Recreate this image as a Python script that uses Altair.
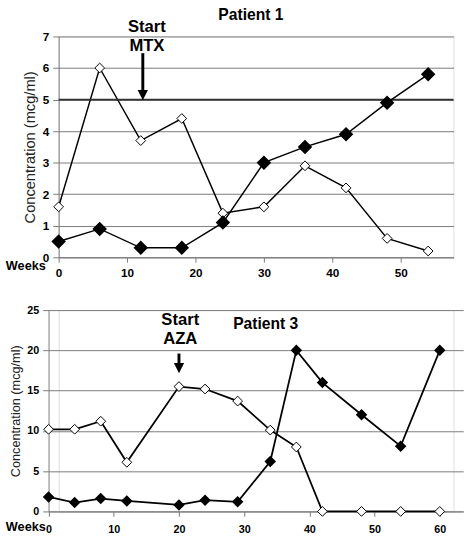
import altair as alt
import pandas as pd

# ---- Patient 1 data ----
p1_weeks = [0, 6, 12, 18, 24, 30, 36, 42, 48, 54]
p1_open = [1.6, 6.0, 3.7, 4.4, 1.4, 1.6, 2.9, 2.2, 0.6, 0.2]
p1_filled = [0.5, 0.9, 0.3, 0.3, 1.1, 3.0, 3.5, 3.9, 4.9, 5.8]
p1_x_ticks = [0, 10, 20, 30, 40, 50]
p1_y_ticks = [0, 1, 2, 3, 4, 5, 6, 7]

# ---- Patient 3 data ----
p3_weeks = [0, 4, 8, 12, 20, 24, 29, 34, 38, 42, 48, 54, 60]
p3_open = [10.2, 10.2, 11.2, 6.1, 15.5, 15.2, 13.7, 10.1, 8.0, 0, 0, 0, 0]
p3_filled = [1.8, 1.1, 1.6, 1.3, 0.8, 1.4, 1.2, 6.2, 20.0, 16.0, 12.0, 8.1, 20.0]
p3_x_ticks = [0, 10, 20, 30, 40, 50, 60]
p3_y_ticks = [0, 5, 10, 15, 20, 25]

FONT = "Liberation Sans"
GRAY = "#7a7a7a"
ARROW = "M-1,-1L1,-1L0,1Z"


def panel(weeks, open_v, filled_v, xdom, xrange, ydom, xticks, yticks, w, h,
          yoffset, open_size, filled_size, lw, tick_fs, title_fs, title_pad, label_pad,
          title_text, title_pos, start_lbl, drug_lbl, start_pos, drug_pos,
          shaft, head, weeks_px, emph=None):
    df = pd.DataFrame({"week": weeks, "open": open_v, "filled": filled_v})
    xs = alt.Scale(domain=xdom, range=xrange, nice=False, zero=False)
    ys = alt.Scale(domain=ydom, nice=False)
    xaxis = alt.Axis(values=xticks, grid=False, domainColor=GRAY, tickColor=GRAY,
                     tickSize=5, labelFont=FONT, labelFontWeight="bold",
                     labelFontSize=tick_fs, labelColor="black", labelPadding=label_pad,
                     title=None, labelFlush=False, labelOverlap=False)
    yaxis = alt.Axis(values=yticks, grid=True, gridColor=GRAY, gridOpacity=1,
                     domainColor=GRAY, tickColor=GRAY, tickSize=6, offset=yoffset,
                     labelFont=FONT, labelFontWeight="bold", labelFontSize=tick_fs,
                     labelColor="black", labelPadding=4, labelOverlap=False,
                     title="Concentration (mcg/ml)", titleFont=FONT,
                     titleFontWeight="normal", titleFontSize=title_fs,
                     titleColor="#222222", titlePadding=title_pad)

    def X(f="week:Q"):
        return alt.X(f, scale=xs, axis=xaxis)

    def Y(f):
        return alt.Y(f, scale=ys, axis=yaxis)

    base = alt.Chart(df)
    line_open = base.mark_line(color="black", strokeWidth=lw).encode(
        x=X(), y=Y("open:Q"))
    line_filled = base.mark_line(color="black", strokeWidth=lw).encode(
        x=X(), y=Y("filled:Q"))
    pts_open = base.mark_point(shape="diamond", filled=True, fill="white",
                               stroke="black", strokeWidth=1, size=open_size,
                               opacity=1).encode(x=X(), y=Y("open:Q"))
    pts_filled = base.mark_point(shape="diamond", filled=True, fill="black",
                                 stroke="black", size=filled_size, opacity=1).encode(
        x=X(), y=Y("filled:Q"))

    ann = pd.DataFrame({
        "week": [title_pos[0], start_pos[0], drug_pos[0]],
        "filled": [title_pos[1], start_pos[1], drug_pos[1]],
        "label": [title_text, start_lbl, drug_lbl],
        "size": [16, 17, 17],
    })
    texts = alt.Chart(ann).mark_text(font=FONT, fontWeight="bold", color="black",
                                     baseline="middle", align="center").encode(
        x=X(), y=Y("filled:Q"),
        text="label:N", size=alt.Size("size:Q", scale=None, legend=None))

    shaft_df = pd.DataFrame({"week": [shaft[0]], "filled": [shaft[1]], "y2": [shaft[2]]})
    shaft_mark = alt.Chart(shaft_df).mark_rule(color="black", strokeWidth=3).encode(
        x=X(), y=Y("filled:Q"), y2="y2:Q")
    head_df = pd.DataFrame({"week": [head[0]], "filled": [head[1]]})
    head_mark = alt.Chart(head_df).mark_point(shape=ARROW, filled=True, color="black",
                                              size=110, opacity=1).encode(
        x=X(), y=Y("filled:Q"))

    weeks_lbl = alt.Chart(pd.DataFrame({"t": ["Weeks"]})).mark_text(
        font=FONT, fontWeight="bold", fontSize=13, color="black", align="left",
        baseline="middle").encode(x=alt.value(weeks_px[0]), y=alt.value(weeks_px[1]),
                                  text="t:N")

    layers = [line_open]
    if emph is not None:
        emph_df = pd.DataFrame({"filled": [emph]})
        layers.append(alt.Chart(emph_df).mark_rule(color="#333333", strokeWidth=1.8).encode(
            y=Y("filled:Q")))
    layers += [line_filled, pts_open, pts_filled, texts,
               shaft_mark, head_mark, weeks_lbl]
    return alt.layer(*layers).properties(width=w, height=h)


top = panel(p1_weeks, p1_open, p1_filled, [0, 57.7], [0, 404], [0, 7],
            p1_x_ticks, p1_y_ticks, 404, 226, 0,
            100, 144, 1.5, 12, 15, 5, 6,
            "Patient 1", (28.1, 7.68), "Start", "MTX", (12.9, 7.31), (12.9, 6.69),
            (12.3, 6.47, 5.3), (12.3, 5.14), (-54, 235), emph=5)

bottom = panel(p3_weeks, p3_open, p3_filled, [0, 63.6], [-10.3, 414], [0, 25],
               p3_x_ticks, p3_y_ticks, 404, 206, 10.3,
               100, 80, 1.8, 11, 13, 5, 8,
               "Patient 3", (33.3, 23.2), "Start", "AZA", (20.2, 23.8), (20.2, 21.35),
               (20.0, 19.6, 18.3), (20.0, 17.8), (-54, 222))

chart = alt.vconcat(top, bottom, spacing=24).properties(
    padding={"left": 5, "top": 0, "right": 0, "bottom": 0}
).configure_view(stroke=None).configure(font=FONT, background="white")

chart.save("out.html", embed_options={"renderer": "svg", "actions": False})
